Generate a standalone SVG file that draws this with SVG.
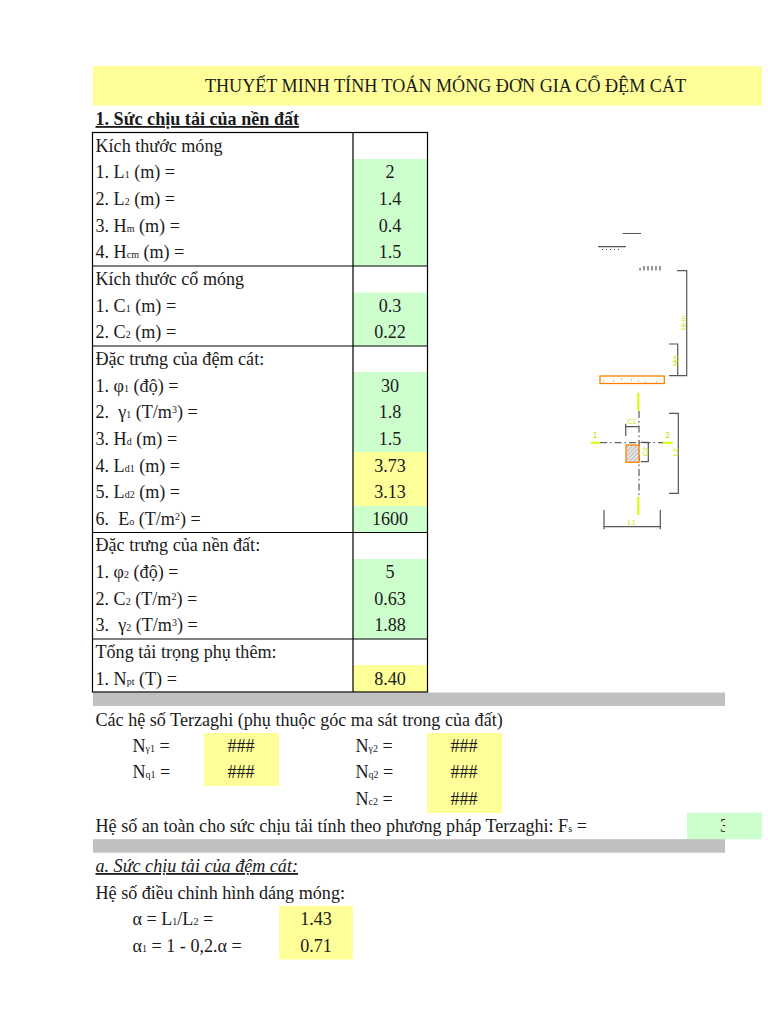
<svg xmlns="http://www.w3.org/2000/svg" width="768" height="1024" viewBox="0 0 768 1024">
<style>
text{font-family:"Liberation Serif","Times New Roman",serif;font-size:18.13px;fill:#1a1a1a}
.c{text-anchor:middle}
.s{font-size:10px}
.y{fill:#ffff99}.g{fill:#ccffcc}.b{fill:#c0c0c0}
.k{stroke:#000;stroke-width:1.2;fill:none}
.d{stroke:#555;stroke-width:1.2;fill:none}
.h{stroke:#ccff00;stroke-width:2;fill:none}
.a{stroke:#666;stroke-width:1.3;stroke-dasharray:7 3 1.500 3;fill:none}
.o{stroke:#ff8000;stroke-width:1.3}
.l{font-family:"Liberation Sans",sans-serif;font-size:7px;fill:#c4e600}
.n{font-size:9px;fill:#bfe000}
</style>
<defs>
<pattern id="hatch" width="3" height="3" patternUnits="userSpaceOnUse" patternTransform="rotate(45)"><rect width="3" height="3" fill="#e4e4e4"/><path d="M0 0V3" stroke="#999" stroke-width="1"/></pattern>
<clipPath id="cut"><rect x="687" y="812" width="38" height="28"/></clipPath>
</defs>
<rect width="768" height="1024" fill="#fff"/>
<g id="fills">
<rect class="y" x="93" y="66" width="669" height="39.500"/>
<rect class="g" x="353" y="159" width="74" height="107"/>
<rect class="g" x="353" y="292.500" width="74" height="53.500"/>
<rect class="g" x="353" y="372" width="74" height="80"/>
<rect class="y" x="353" y="452" width="74" height="54"/>
<rect class="g" x="353" y="506" width="74" height="26.500"/>
<rect class="g" x="353" y="559" width="74" height="80"/>
<rect class="y" x="353" y="665" width="74" height="27"/>
<rect class="b" x="93" y="692.500" width="632" height="13.500"/>
<rect class="y" x="204" y="733" width="75" height="53"/>
<rect class="y" x="427" y="733" width="75" height="80"/>
<rect class="g" x="687" y="812.700" width="75" height="26.500"/>
<rect class="b" x="93" y="839.200" width="632" height="13.500"/>
<rect class="y" x="279" y="906" width="74" height="53.500"/>
</g>
<g id="grid">
<rect class="k" x="92.500" y="132.500" width="335" height="559.500"/>
<path class="k" d="M353 132.500V692M92.500 266H427.500M92.500 346H427.500M92.500 532.500H427.500M92.500 639H427.500"/>
</g>
<g id="title"><text class="c" x="445.500" y="91.500">THUYẾT MINH TÍNH TOÁN MÓNG ĐƠN GIA CỐ ĐỆM CÁT</text></g>
<g id="table-text">
<text x="95.500" y="125" font-weight="bold" text-decoration="underline">1. Sức chịu tải của nền đất</text>
<text x="95.500" y="152">Kích thước móng</text>
<text x="95.500" y="178">1. L<tspan class="s">1</tspan> (m) =</text><text class="c" x="390" y="178">2</text>
<text x="95.500" y="205">2. L<tspan class="s">2</tspan> (m) =</text><text class="c" x="390" y="205">1.4</text>
<text x="95.500" y="232">3. H<tspan class="s">m</tspan> (m) =</text><text class="c" x="390" y="232">0.4</text>
<text x="95.500" y="258">4. H<tspan class="s">cm</tspan> (m) =</text><text class="c" x="390" y="258">1.5</text>
<text x="95.500" y="285">Kích thước cổ móng</text>
<text x="95.500" y="312">1. C<tspan class="s">1</tspan> (m) =</text><text class="c" x="390" y="312">0.3</text>
<text x="95.500" y="338">2. C<tspan class="s">2</tspan> (m) =</text><text class="c" x="390" y="338">0.22</text>
<text x="95.500" y="365">Đặc trưng của đệm cát:</text>
<text x="95.500" y="392">1. φ<tspan class="s">1</tspan> (độ) =</text><text class="c" x="390" y="392">30</text>
<text x="95.500" y="418">2.&#160; γ<tspan class="s">1</tspan> (T/m<tspan class="s" dy="-5">3</tspan><tspan dy="5">) =</tspan></text><text class="c" x="390" y="418">1.8</text>
<text x="95.500" y="445">3. H<tspan class="s">d</tspan> (m) =</text><text class="c" x="390" y="445">1.5</text>
<text x="95.500" y="472">4. L<tspan class="s">d1</tspan> (m) =</text><text class="c" x="390" y="472">3.73</text>
<text x="95.500" y="498">5. L<tspan class="s">d2</tspan> (m) =</text><text class="c" x="390" y="498">3.13</text>
<text x="95.500" y="525">6.&#160; E<tspan class="s">o</tspan> (T/m<tspan class="s" dy="-5">2</tspan><tspan dy="5">) =</tspan></text><text class="c" x="390" y="525">1600</text>
<text x="95.500" y="551">Đặc trưng của nền đất:</text>
<text x="95.500" y="578">1. φ<tspan class="s">2</tspan> (độ) =</text><text class="c" x="390" y="578">5</text>
<text x="95.500" y="605">2. C<tspan class="s">2</tspan> (T/m<tspan class="s" dy="-5">2</tspan><tspan dy="5">) =</tspan></text><text class="c" x="390" y="605">0.63</text>
<text x="95.500" y="631">3.&#160; γ<tspan class="s">2</tspan> (T/m<tspan class="s" dy="-5">3</tspan><tspan dy="5">) =</tspan></text><text class="c" x="390" y="631">1.88</text>
<text x="95.500" y="658">Tổng tải trọng phụ thêm:</text>
<text x="95.500" y="685">1. N<tspan class="s">pt</tspan> (T) =</text><text class="c" x="390" y="685">8.40</text>
</g>
<g id="terzaghi">
<text x="95.500" y="726">Các hệ số Terzaghi (phụ thuộc góc ma sát trong của đất)</text>
<text x="132.500" y="752">N<tspan class="s">γ1</tspan> =</text><text class="c" x="241" y="752">###</text>
<text x="132.500" y="778">N<tspan class="s">q1</tspan> =</text><text class="c" x="241" y="778">###</text>
<text x="355.500" y="752">N<tspan class="s">γ2</tspan> =</text><text class="c" x="464" y="752">###</text>
<text x="355.500" y="778">N<tspan class="s">q2</tspan> =</text><text class="c" x="464" y="778">###</text>
<text x="355.500" y="805">N<tspan class="s">c2</tspan> =</text><text class="c" x="464" y="805">###</text>
<text x="95.500" y="832">Hệ số an toàn cho sức chịu tải tính theo phương pháp Terzaghi: F<tspan class="s">s</tspan> =</text>
<text class="c" x="724.500" y="832" clip-path="url(#cut)">3</text>
</g>
<g id="section-a">
<text x="95.500" y="872" font-style="italic" text-decoration="underline">a. Sức chịu tải của đệm cát:</text>
<text x="95.500" y="899">Hệ số điều chỉnh hình dáng móng:</text>
<text x="132.500" y="925">α = L<tspan class="s">1</tspan>/L<tspan class="s">2</tspan> =</text><text class="c" x="316" y="925">1.43</text>
<text x="132.500" y="952">α<tspan class="s">1</tspan> = 1 - 0,2.α =</text><text class="c" x="316" y="952">0.71</text>
</g>
<g id="drawing-elevation">
<path class="d" d="M622.700 233.500H641M598 246.700H626"/>
<path class="d" stroke-dasharray="1 3" d="M602 249.500H622"/>
<path class="d" d="M640 270.500V268M644 270.500V266M648 270.500V266M652 270.500V266M656 270.500V266M660 270.500V266"/>
<path class="d" d="M677 270.700H686.700V375.700H669M669 344H677.700V375.700"/>
<rect x="600" y="376" width="64.300" height="7.500" fill="#fffdf8" class="o"/>
<path d="M603 381h1M613 381h1M621 379h1M631 380h1M638 381h1M645 382h1M656 382h1" stroke="#999"/>
<text class="l" transform="rotate(-90 686 330)" x="686" y="330">Hcm</text>
<text class="l" transform="rotate(-90 678 366)" x="678" y="366">Hm</text>
</g>
<g id="drawing-plan">
<path class="h" d="M638.300 392.700V410.700M638.300 497V515"/>
<path class="h" stroke-width="2.500" d="M591 442.700H600M663 442.700H672.700"/>
<path class="a" d="M639 411V497M600 442.700H663"/>
<rect x="626" y="445" width="13" height="17.300" fill="url(#hatch)" class="o"/>
<path class="d" d="M625.700 423.700V436M625.700 426.700H639M641 442.300H648.300V461.700H641M669 413.300H678.300V493.300H669"/>
<path class="d" d="M604 510V529.300M660.300 510V529.300M604 526.700H660.300"/>
<text class="l n c" x="595" y="438">1</text>
<text class="l n c" x="667.700" y="438">2</text>
<text class="l c" x="631.700" y="424">C1</text>
<text class="l" transform="rotate(-90 648 456)" x="648" y="456">C2</text>
<text class="l" transform="rotate(-90 678 456)" x="678" y="456">L2</text>
<text class="l c" x="631.700" y="525">L1</text>
</g>
</svg>
